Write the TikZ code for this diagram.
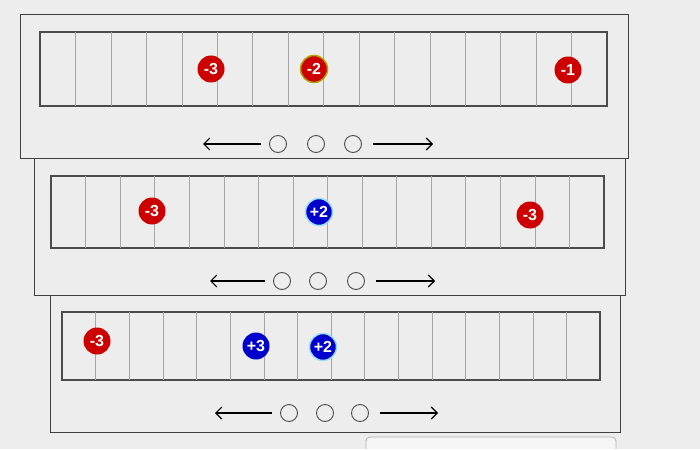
\documentclass[tikz,border=0pt]{standalone}
\usepackage{fontspec}
\setsansfont{Liberation Sans}
\usetikzlibrary{arrows.meta}

\begin{document}
\begin{tikzpicture}[x=1pt,y=-1pt,->,>={Straight Barb[length=6pt,width=12pt]},line width=1.1pt]

    \tikzstyle{panel}=[-,draw=black!75,line width=1pt]
    \tikzstyle{strip}=[-,draw=black!70,line width=1.3pt]
    \tikzstyle{tick}=[-,draw=black!35,line width=0.5pt]
    \tikzstyle{charge}=[circle,minimum size=27pt,inner sep=0pt,text=white,font=\sffamily\bfseries\fontsize{16}{16}\selectfont]
    \tikzstyle{negcharge}=[charge,fill=red!80!black]
    \tikzstyle{poscharge}=[charge,fill=blue!80!black]
    \tikzstyle{slot}=[circle,draw=black!70,minimum size=17pt,inner sep=0pt,line width=0.9pt]

    \fill[black!7] (0,0) rectangle (700,449);
    \useasboundingbox (0,0) rectangle (700,449);

    % top panel
    \draw[panel] (20,15) rectangle (628,158);
    \draw[strip] (40,32) rectangle (607,106);
    \foreach \i in {1,...,15}
      \draw[tick] (40+\i*35.44,32) -- (40+\i*35.44,106);
    \node[negcharge] (q11) at (211,69) {-3};
    \node[negcharge,draw=olive!70!yellow,line width=1.5pt] (q12) at (314,69) {-2};
    \node[negcharge] (q13) at (568,70) {-1};
    \node[slot] (a1) at (278,144) {};
    \node[slot] (b1) at (316,144) {};
    \node[slot] (c1) at (353,144) {};
    \coordinate (l1) at (203,144);
    \coordinate (r1) at (433,144);
    \path (a1.west) edge[shorten <=8pt] (l1)
          (c1.east) edge[shorten <=11pt] (r1);

    % middle panel
    \draw[panel] (34,158) rectangle (625,295);
    \draw[strip] (51,176) rectangle (604,248);
    \foreach \i in {1,...,15}
      \draw[tick] (51+\i*34.56,176) -- (51+\i*34.56,248);
    \node[negcharge] (q21) at (152,211) {-3};
    \node[poscharge,draw=cyan!40,line width=1.5pt] (q22) at (319,212) {+2};
    \node[negcharge] (q23) at (530,215) {-3};
    \node[slot] (a2) at (282,281) {};
    \node[slot] (b2) at (318,281) {};
    \node[slot] (c2) at (356,281) {};
    \coordinate (l2) at (210,281);
    \coordinate (r2) at (435,281);
    \path (a2.west) edge[shorten <=8pt] (l2)
          (c2.east) edge[shorten <=11pt] (r2);

    % bottom panel
    \draw[panel] (50,295) rectangle (620,432);
    \draw[strip] (62,312) rectangle (600,380);
    \foreach \i in {1,...,15}
      \draw[tick] (62+\i*33.63,312) -- (62+\i*33.63,380);
    \node[negcharge] (q31) at (97,341) {-3};
    \node[poscharge] (q32) at (256,346) {+3};
    \node[poscharge,draw=cyan!40,line width=1.5pt] (q33) at (323,347) {+2};
    \node[slot] (a3) at (289,413) {};
    \node[slot] (b3) at (325,413) {};
    \node[slot] (c3) at (360,413) {};
    \coordinate (l3) at (215,413);
    \coordinate (r3) at (438,413);
    \path (a3.west) edge[shorten <=8pt] (l3)
          (c3.east) edge[shorten <=11pt] (r3);

    % tab below
    \draw[-,black!30,fill=black!4,line width=0.8pt,rounded corners=4pt] (366,449) -- (366,437) -- (616,437) -- (616,449);

\end{tikzpicture}
\end{document}
